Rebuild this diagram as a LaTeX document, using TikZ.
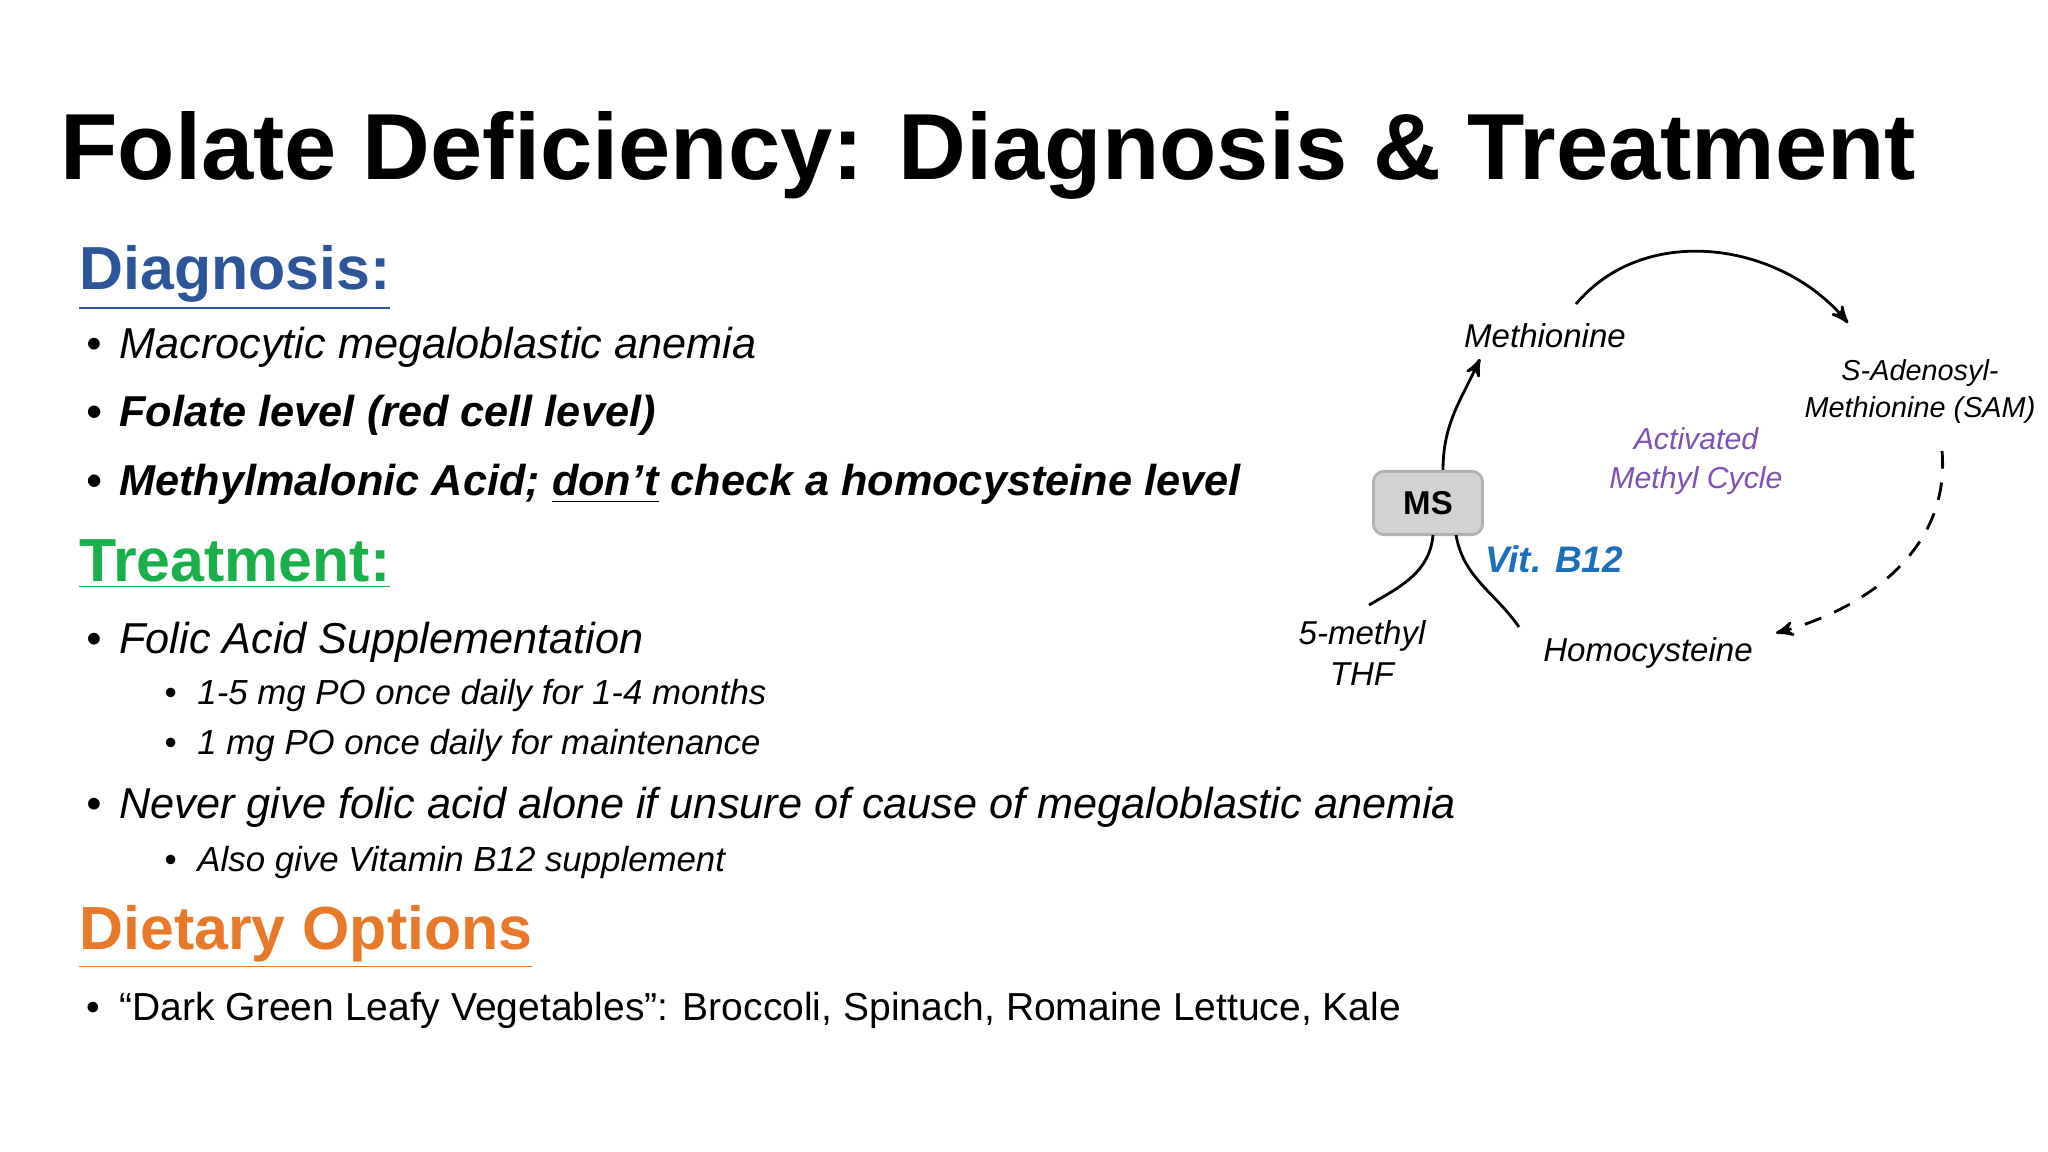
\documentclass[tikz,border=0pt]{standalone}
\usepackage{fontspec}
\setmainfont{Liberation Sans}
\usetikzlibrary{arrows}
\definecolor{diagblue}{HTML}{2E5597}
\definecolor{treatgreen}{HTML}{1BAF4B}
\definecolor{dietorange}{HTML}{E8792A}
\definecolor{vitblue}{HTML}{1E6EBE}
\definecolor{cyclepurple}{HTML}{7E52B5}
\newcommand{\bul}{\makebox[9.4pt][l]{\textbullet}}
\begin{document}
\begin{tikzpicture}[x=0.01cm,y=-0.01cm,>=stealth',thick,
  head/.style={anchor=base west,inner sep=0pt,font=\fontsize{17.3}{20}\selectfont\bfseries},
  item/.style={anchor=base west,inner sep=0pt,font=\fontsize{12.3}{14}\selectfont\itshape},
  subitem/.style={anchor=base west,inner sep=0pt,font=\fontsize{9.9}{11}\selectfont\itshape},
  mol/.style={font=\fontsize{9.4}{11.5}\selectfont\itshape,align=center}]
\useasboundingbox[fill=white] (0,0) rectangle (2048,1152);
% title
\node[anchor=base west,inner sep=0pt,font=\fontsize{26.7}{30}\selectfont\bfseries](Title)at(59,180){Folate Deficiency: Diagnosis \& Treatment};
% diagnosis
\node[head,text=diagblue](Diag)at(78,290){\underline{Diagnosis:}};
\node[item](D1)at(85,359){\bul Macrocytic megaloblastic anemia};
\node[item,font=\fontsize{12.3}{14}\selectfont\bfseries\itshape](D2)at(85,427){\bul Folate level (red cell level)};
\node[item,font=\fontsize{12.3}{14}\selectfont\bfseries\itshape](D3)at(85,496){\bul Methylmalonic Acid; \underline{don’t} check a homocysteine level};
% treatment
\node[head,text=treatgreen](Treat)at(78,581){\underline{Treatment:}};
\node[item](T1)at(85,653){\bul Folic Acid Supplementation};
\node[subitem](T1a)at(163,705){\bul 1-5 mg PO once daily for 1-4 months};
\node[subitem](T1b)at(163,754){\bul 1 mg PO once daily for maintenance};
\node[item](T2)at(85,818){\bul Never give folic acid alone if unsure of cause of megaloblastic anemia};
\node[subitem](T2a)at(163,871){\bul Also give Vitamin B12 supplement};
% dietary
\node[head,text=dietorange](Diet)at(78,949){\underline{Dietary Options}};
\node[item,font=\fontsize{11.1}{14}\selectfont](E1)at(85,1020){\bul “Dark Green Leafy Vegetables”: Broccoli, Spinach, Romaine Lettuce, Kale};
% cycle
\node[mol](Met)at(1545,336){Methionine};
\node[mol,font=\fontsize{8.2}{10.5}\selectfont\itshape](SAM)at(1920,392){S-Adenosyl-\\Methionine (SAM)};
\node[mol,text=cyclepurple,font=\fontsize{8.6}{11}\selectfont\itshape](Cyc)at(1696,461){Activated\\Methyl Cycle};
\node[draw=gray!60,fill=gray!35,rounded corners=3pt,minimum width=31pt,minimum height=18pt,font=\fontsize{9.4}{11}\selectfont\bfseries](MS)at(1428,503){MS};
\node[mol,text=vitblue,font=\fontsize{10.5}{12}\selectfont\bfseries\itshape](B12)at(1554,559){Vit. B12};
\node[mol](THF)at(1362,653){5-methyl\\THF};
\node[mol](Hcy)at(1648,653){Homocysteine};
\coordinate(MSb1)at(1433,535);
\coordinate(MSb2)at(1456,535);
\coordinate(Arc1)at(1576,304);
\coordinate(Arc2)at(1848,323);
\draw[->](MS.north -| 1443,0) to[out=90,in=-115] (1480,359);
\draw[->](Arc1) to[out=50,in=130] (Arc2);
\draw[->,dash pattern=on 5pt off 4pt](1942,451) to[out=-85,in=15] (1776,633);
\draw(1369,605) to[out=30,in=-95] (MSb1);
\draw(1519,627) to[out=125,in=-80] (MSb2);
\end{tikzpicture}
\end{document}
